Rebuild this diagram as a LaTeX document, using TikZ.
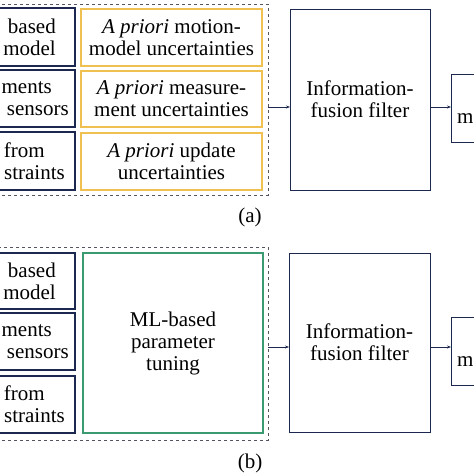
\documentclass[tikz,border=0pt]{standalone}
\usepackage{fontspec}
\setmainfont{Liberation Serif}
\usetikzlibrary{positioning,arrows.meta,calc}
\definecolor{navybox}{RGB}{28,40,80}
\definecolor{priorbox}{RGB}{240,192,80}
\definecolor{mlbox}{RGB}{58,154,112}
\definecolor{groupline}{RGB}{85,85,95}

\tikzset{
  txt/.style={font=\fontsize{21}{22}\selectfont,align=center},
  inbox/.style={draw=navybox,line width=1.3pt,inner sep=0pt,outer sep=0pt},
  priorbox/.style={draw=priorbox,line width=1.3pt,inner sep=0pt,outer sep=0pt,txt},
  group/.style={draw=groupline,dashed,line width=0.6pt,inner sep=0pt,outer sep=0pt},
  block/.style={draw=navybox,line width=1pt,inner sep=0pt,outer sep=0pt,txt},
  flow/.style={-{Stealth[length=4pt,width=3pt]},navybox,line width=0.8pt},
}

\begin{document}
\begin{tikzpicture}[x=1pt,y=-1pt]
\useasboundingbox (0,0) rectangle (474,474);
\clip (0,0) rectangle (474,474);

% (a) a priori uncertainties
\node[group,minimum width=290,minimum height=191] (grpA) at (123,99.5) {};
\node[inbox,minimum width=155,minimum height=58,anchor=east] (inA1) at (75,37)  {};
\node[inbox,minimum width=155,minimum height=57,anchor=east] (inA2) at (75,98.5) {};
\node[inbox,minimum width=155,minimum height=58,anchor=east] (inA3) at (75,161) {};
\node[txt,align=right,anchor=east,inner sep=0pt] (tA1) at (56,37)  {based\\model};
\node[txt,align=right,anchor=east,inner sep=0pt] (tA2) at (69,98.5) {ments\hspace*{17pt}\\sensors};
\node[txt,align=right,anchor=east,inner sep=0pt] (tA3) at (65,161) {from\hspace*{20pt}\\straints};
\node[priorbox,minimum width=181,minimum height=57] (prA1) at (171.5,37.5) {\textit{A priori} motion-\\model uncertainties};
\node[priorbox,minimum width=181,minimum height=56] (prA2) at (171.5,99)   {\textit{A priori} measure-\\ment uncertainties};
\node[priorbox,minimum width=181,minimum height=57] (prA3) at (171.5,161.5) {\textit{A priori} update\\uncertainties};
\node[block,minimum width=140,minimum height=181] (fltA) at (360,99.5) {Information-\\fusion filter};
\node[block,minimum width=100,minimum height=68] (outA) at (501,108) {};
\node[txt,anchor=west,inner sep=0pt] (oA) at (457,119) {m};
\coordinate (yA) at (0,107);
\draw[flow] (grpA.east |- yA) -- (fltA.west |- yA);
\draw[flow] (fltA.east |- yA) -- (outA.west |- yA);
\node[txt] (capA) at (250,217) {(a)};

% (b) ML-based tuning
\node[group,minimum width=290,minimum height=193] (grpB) at (123,343.5) {};
\node[inbox,minimum width=155,minimum height=56,anchor=east] (inB1) at (75,281)   {};
\node[inbox,minimum width=155,minimum height=57,anchor=east] (inB2) at (75,341.5) {};
\node[inbox,minimum width=155,minimum height=57,anchor=east] (inB3) at (75,404.5) {};
\node[txt,align=right,anchor=east,inner sep=0pt] (tB1) at (56,281)   {based\\model};
\node[txt,align=right,anchor=east,inner sep=0pt] (tB2) at (69,341.5) {ments\hspace*{17pt}\\sensors};
\node[txt,align=right,anchor=east,inner sep=0pt] (tB3) at (65,404.5) {from\hspace*{20pt}\\straints};
\node[draw=mlbox,line width=1.3pt,inner sep=0pt,txt,minimum width=180,minimum height=180] (mlB) at (173,343) {ML-based\\parameter\\tuning};
\node[block,minimum width=141,minimum height=179] (fltB) at (359.5,342.5) {Information-\\fusion filter};
\node[block,minimum width=100,minimum height=68] (outB) at (501,351) {};
\node[txt,anchor=west,inner sep=0pt] (oB) at (457,362) {m};
\coordinate (yB) at (0,347);
\draw[flow] (grpB.east |- yB) -- (fltB.west |- yB);
\draw[flow] (fltB.east |- yB) -- (outB.west |- yB);
\node[txt] (capB) at (250,463) {(b)};
\end{tikzpicture}
\end{document}
